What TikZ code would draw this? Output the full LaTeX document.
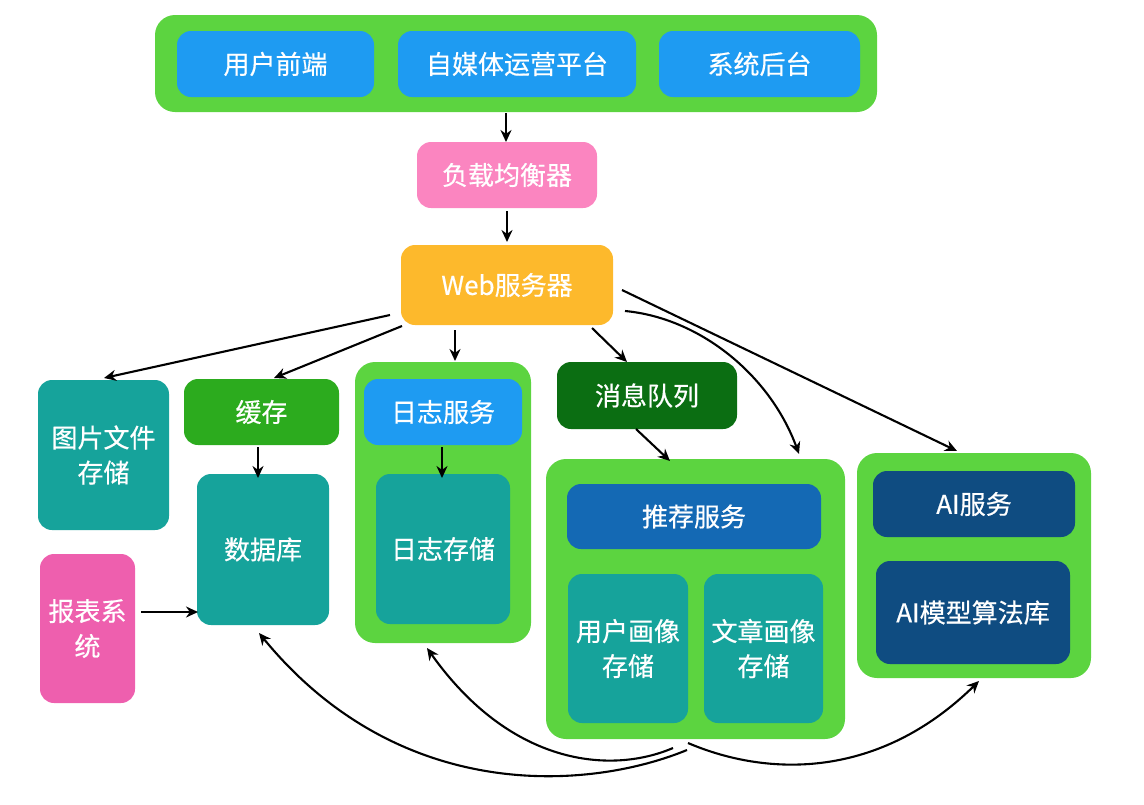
\documentclass[tikz,border=0pt]{standalone}
\usepackage{fontspec}
\setmainfont[FakeBold=0.5]{Noto Sans CJK SC}
\usetikzlibrary{arrows.meta}
\definecolor{grn}{HTML}{5CD440}
\definecolor{blu}{HTML}{1E9BF2}
\definecolor{tea}{HTML}{16A39B}
\definecolor{pnk}{HTML}{FB85C0}
\definecolor{org}{HTML}{FDB92C}
\definecolor{mgn}{HTML}{EE5FAE}
\definecolor{gr2}{HTML}{2CAB1E}
\definecolor{dgr}{HTML}{0B6E12}
\definecolor{mbl}{HTML}{1469B4}
\definecolor{nav}{HTML}{0F4C81}
\tikzset{
 x=1pt,y=-1pt,
 boxn/.style={rounded corners=14pt,inner sep=0pt,text=white,font=\fontsize{26}{35}\selectfont,align=center},
 outerbox/.style={boxn,rounded corners=20pt},
 arr/.style={black,line width=2.1pt,-{Stealth[length=12pt,width=11pt]}},
}
\begin{document}
\begin{tikzpicture}
\useasboundingbox (0,0) rectangle (1144,804);
\def\mk#1#2#3#4#5#6#7{\pgfmathsetmacro\cx{(#3+#5)/2}\pgfmathsetmacro\cy{(#4+#6)/2}\pgfmathsetmacro\bw{#5-#3}\pgfmathsetmacro\bh{#6-#4}%
 \node[boxn,fill=#2,minimum width=\bw pt,minimum height=\bh pt] (#1) at (\cx,\cy) {#7};}
\def\mo#1#2#3#4#5#6{\pgfmathsetmacro\cx{(#3+#5)/2}\pgfmathsetmacro\cy{(#4+#6)/2}\pgfmathsetmacro\bw{#5-#3}\pgfmathsetmacro\bh{#6-#4}%
 \node[outerbox,fill=#2,minimum width=\bw pt,minimum height=\bh pt] (#1) at (\cx,\cy) {};}
\mo{top}{grn}{155}{15}{877}{112}
\mk{yh}{blu}{177}{31}{374}{97}{用户前端}
\mk{zmt}{blu}{398}{31}{636}{97}{自媒体运营平台}
\mk{xt}{blu}{659}{31}{860}{97}{系统后台}
\mk{lb}{pnk}{417}{142}{597}{208}{负载均衡器}
\mk{web}{org}{401}{245}{613}{325}{Web服务器}
\mk{img}{tea}{38}{380}{169}{530}{图片文件\\存储}
\mk{cache}{gr2}{184}{379}{339}{445}{缓存}
\mk{db}{tea}{197}{474}{329}{625}{数据库}
\mk{rep}{mgn}{40}{554}{135}{703}{报表系\\统}
\mo{logo}{grn}{355}{362}{531}{643}
\mk{logs}{blu}{364}{379}{522}{445}{日志服务}
\mk{logd}{tea}{376}{474}{510}{624}{日志存储}
\mk{mq}{dgr}{557}{362}{737}{429}{消息队列}
\mo{reco}{grn}{546}{459}{845}{739}
\mk{recs}{mbl}{567}{484}{821}{549}{推荐服务}
\mk{up}{tea}{568}{574}{688}{723}{用户画像\\存储}
\mk{ap}{tea}{704}{574}{823}{723}{文章画像\\存储}
\mo{aio}{grn}{857}{453}{1091}{678}
\mk{ais}{nav}{873}{471}{1075}{537}{AI服务}
\mk{aim}{nav}{876}{561}{1070}{664}{AI模型算法库}
\coordinate (a1) at (506,113); \coordinate (a2) at (506,142);
\coordinate (b1) at (507,211); \coordinate (b2) at (507,242);
\draw[arr] (a1)--(a2);
\draw[arr] (b1)--(b2);
\coordinate (w1) at (390,315); \coordinate (i1) at (104,378);
\draw[arr] (w1)--(i1);
\coordinate (w2) at (402,326); \coordinate (c1) at (274,378);
\draw[arr] (w2)--(c1);
\coordinate (w3) at (455,330); \coordinate (l1) at (455,361);
\draw[arr] (w3)--(l1);
\coordinate (w4) at (592,328); \coordinate (m1) at (627,362);
\draw[arr] (w4)--(m1);
\coordinate (w5) at (625,311); \coordinate (r1) at (799,454);
\draw[arr] (w5) .. controls (700,318) and (770,375) .. (r1);
\coordinate (w6) at (622,290); \coordinate (ai1) at (957,451);
\draw[arr] (w6)--(ai1);
\coordinate (m2) at (636,429); \coordinate (r2) at (670,461);
\draw[arr] (m2)--(r2);
\coordinate (c2) at (258,447); \coordinate (d1) at (258,478);
\draw[arr] (c2)--(d1);
\coordinate (l2) at (442,447); \coordinate (l3) at (442,478);
\draw[arr] (l2)--(l3);
\coordinate (rp) at (141,612); \coordinate (dp) at (198,612);
\draw[arr] (rp)--(dp);
\coordinate (s1) at (687,750); \coordinate (s2) at (259,633);
\draw[arr] (s1) .. controls (590,790) and (400,805) .. (s2);
\coordinate (s3) at (673,748); \coordinate (s4) at (427,648);
\draw[arr] (s3) .. controls (610,775) and (510,765) .. (s4);
\coordinate (s5) at (688,743); \coordinate (s6) at (979,681);
\draw[arr] (s5) .. controls (770,778) and (880,778) .. (s6);
\end{tikzpicture}
\end{document}
